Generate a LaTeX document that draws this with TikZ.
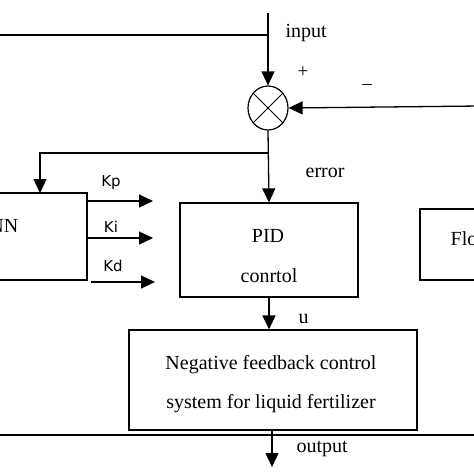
\documentclass[tikz,border=0pt]{standalone}
\usepackage{fontspec}
\setmainfont{Liberation Serif}
\newfontfamily\ksans{DejaVu Sans}
\usetikzlibrary{arrows.meta,shapes.geometric}
\begin{document}
\begin{tikzpicture}[x=1pt,y=-1pt,
  line width=1.3pt,
  arr/.style={-{Triangle[length=14pt,width=13pt]}},
  blk/.style={draw,rectangle,inner sep=0pt,line width=1.2pt},
  lbl/.style={inner sep=0pt,font=\fontsize{20}{22}\selectfont},
  klbl/.style={inner sep=0pt,font=\ksans\fontsize{15}{17}\selectfont},
  sgn/.style={inner sep=0pt,font=\fontsize{19}{21}\selectfont}]
\useasboundingbox (0,0) rectangle (474,474);
\clip (0,0) rectangle (474,474);
% summing junction
\node[draw,ellipse,minimum width=40pt,minimum height=44pt,inner sep=0pt,line width=1.2pt] (sum) at (268,108) {};
\draw[line width=1pt] (sum.45) -- (sum.225) (sum.135) -- (sum.315);
% blocks
\node[blk,minimum width=178pt,minimum height=94pt] (pid) at (269,250) {};
\node[blk,minimum width=288pt,minimum height=100pt] (neg) at (273,380) {};
\node[blk,minimum width=120pt,minimum height=87pt] (nn) at (27,236.5) {};
\node[blk,minimum width=100pt,minimum height=71pt] (flow) at (470,244.5) {};
% coordinates
\coordinate (intop) at (268,13);
\coordinate (inleft) at (0,35);
\coordinate (injoin) at (268,35);
\coordinate (fb) at (480,106);
\coordinate (br) at (268,153);
\coordinate (nntop) at (40,193);
\coordinate (kp1) at (88,201);  \coordinate (kp2) at (153,201);
\coordinate (ki1) at (88,238);  \coordinate (ki2) at (153,238);
\coordinate (kd1) at (91,282);  \coordinate (kd2) at (155,282);
\coordinate (outl) at (0,435);
\coordinate (outr) at (474,435);
\coordinate (outend) at (272,467);
% connectors
\draw[arr] (intop) -- (sum.north);
\draw (inleft) -- (injoin);
\draw[arr] (fb) -- (sum.east);
\draw[arr] (sum.south) -- (pid.north);
\draw[arr] (br) -| (nntop);
\draw[arr,line width=1.2pt] (kp1) -- (kp2);
\draw[arr,line width=1.2pt] (ki1) -- (ki2);
\draw[arr,line width=1.2pt] (kd1) -- (kd2);
\draw[arr] (pid.south) -- (pid.south |- neg.north);
\draw (outl) -- (outr);
\draw[arr] (neg.south -| outend) -- (outend);
% texts
\node[lbl,anchor=base west] (tin) at (285,37) {input};
\node[sgn] (tplus) at (303,72) {+};
\node[sgn] (tminus) at (367,87) {–};
\node[lbl,anchor=base west] (terr) at (305,177) {error};
\node[lbl,anchor=base] (tpid) at (268,242) {PID};
\node[lbl,anchor=base] (tctl) at (269,282) {conrtol};
\node[lbl,anchor=base west] (tu) at (298,323) {u};
\node[lbl,anchor=base] (tneg1) at (271,369) {Negative feedback control};
\node[lbl,anchor=base] (tneg2) at (271,408) {system for liquid fertilizer};
\node[lbl,anchor=base west] (tout) at (296,452) {output};
\node[klbl,anchor=base] (tkp) at (111,186) {Kp};
\node[klbl,anchor=base] (tki) at (111,232) {Ki};
\node[klbl,anchor=base] (tkd) at (113,271) {Kd};
\node[lbl,anchor=base east] (tnn) at (19,232) {NN};
\node[lbl,anchor=base west] (tflow) at (450,245) {Flow};
\end{tikzpicture}
\end{document}
